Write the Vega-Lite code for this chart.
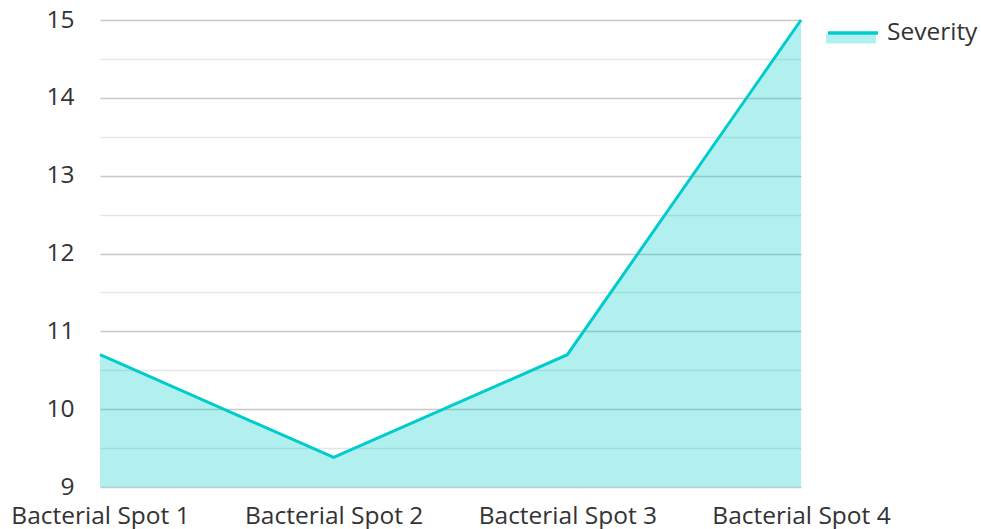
{
  "$schema": "https://vega.github.io/schema/vega-lite/v6.json",
  "width": 701,
  "height": 467,
  "autosize": {"type": "none"},
  "padding": {"left": 100, "top": 20, "right": 180, "bottom": 42},
  "background": "white",
  "config": {
    "view": {"stroke": null},
    "font": "Open Sans"
  },
  "data": {
    "values": [
      {"disease": "Bacterial Spot 1", "severity": 10.7, "series": "Severity"},
      {"disease": "Bacterial Spot 2", "severity": 9.38, "series": "Severity"},
      {"disease": "Bacterial Spot 3", "severity": 10.7, "series": "Severity"},
      {"disease": "Bacterial Spot 4", "severity": 15, "series": "Severity"}
    ]
  },
  "encoding": {
    "x": {
      "field": "disease", "type": "ordinal", "sort": null,
      "scale": {"type": "point", "padding": 0},
      "axis": {"title": null, "labelAngle": 0, "labelFontSize": 24.5, "labelColor": "#333333", "labelPadding": 17, "ticks": false, "domain": false, "grid": false, "labelFont": "Open Sans"}
    },
    "y": {
      "field": "severity", "type": "quantitative",
      "scale": {"domain": [9, 15], "nice": false, "zero": false},
      "axis": {
        "title": null, "values": [9, 9.5, 10, 10.5, 11, 11.5, 12, 12.5, 13, 13.5, 14, 14.5, 15],
        "labelExpr": "datum.value % 1 === 0 ? format(datum.value, 'd') : ''",
        "labelFontSize": 24.5, "labelColor": "#333333", "labelPadding": 26, "ticks": false, "domain": false,
        "grid": true, "gridColor": {"condition": {"test": "datum.value % 1 !== 0", "value": "#e6e6e6"}, "value": "#c8c8c8"},
        "gridWidth": 1.5, "labelFont": "Open Sans"
      }
    }
  },
  "layer": [
    {
      "mark": {"type": "area", "fillOpacity": 0.3, "clip": true},
      "encoding": {
        "y2": {"datum": 9},
        "fill": {"field": "series", "type": "nominal", "scale": {"range": ["#00CCCC"]},
          "legend": {"orient": "none", "legendX": 726, "legendY": -14, "title": null, "symbolType": "M-1,0.12 L1,0.12 L1,0.5 L-1,0.5 Z", "symbolSize": 2500, "symbolOpacity": 0.3, "symbolStrokeWidth": 0, "labelOpacity": 0, "labelFontSize": 24.5, "labelOffset": 7}}
      }
    },
    {
      "mark": {"type": "line", "strokeWidth": 3},
      "encoding": {
        "stroke": {"field": "series", "type": "nominal", "scale": {"range": ["#00CCCC"]},
          "legend": {"orient": "none", "legendX": 726, "legendY": -14, "title": null, "symbolType": "stroke", "symbolSize": 2500, "symbolStrokeWidth": 3.5, "labelFontSize": 24.5, "labelColor": "#333333", "labelFont": "Open Sans", "labelOffset": 7}}
      }
    }
  ],
  "resolve": {"legend": {"fill": "independent", "stroke": "independent"}}
}
